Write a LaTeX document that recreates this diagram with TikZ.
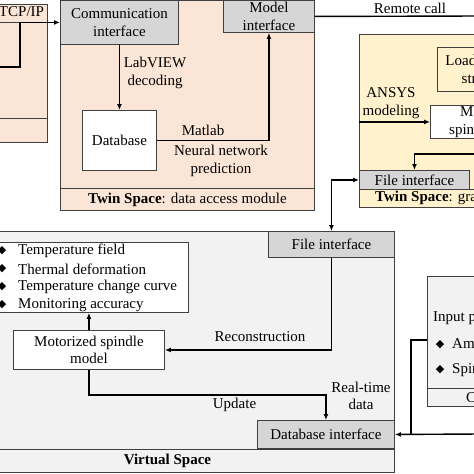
\documentclass[tikz,border=0pt]{standalone}
\usepackage{fontspec}
\setmainfont{Liberation Serif}
\newfontfamily\symfont{DejaVu Sans}
\usetikzlibrary{arrows.meta,calc}
\definecolor{peach}{HTML}{FBE5D6}
\definecolor{yel}{HTML}{FFF2CC}
\definecolor{hgray}{HTML}{D6D6D6}
\definecolor{vgray}{HTML}{F2F2F2}
\definecolor{bord}{HTML}{404040}
\begin{document}
\begin{tikzpicture}[x=1pt,y=-1pt,
  every node/.style={font=\fontsize{15}{17.5}\selectfont, inner sep=0pt},
  frame/.style={draw=bord, line width=0.9pt, anchor=north west, inner sep=0pt},
  conn/.style={line width=1.4pt, black},
  arr/.style={conn, -{Latex[length=6pt,width=5pt]}},
  darr/.style={conn, {Latex[length=6pt,width=5pt]}-{Latex[length=6pt,width=5pt]}},
  dia/.style={font=\symfont\fontsize{11}{11}\selectfont},
  item/.style={anchor=west}
]
\clip (0,0) rectangle (474,474);
% left box
\node[frame, fill=peach, minimum width=107pt, minimum height=138pt] (leftbox) at (-60,4) {};
\node[frame, fill=peach, minimum width=107pt, minimum height=18pt] (lhead) at (-60,4) {};
\node[frame, fill=peach, minimum width=107pt, minimum height=24pt] (lfoot) at (-60,118) {};
% data access module
\node[frame, fill=peach, minimum width=254pt, minimum height=210pt] (dam) at (60,0) {};
\node[frame, fill=peach, minimum width=254pt, minimum height=22pt] (damfoot) at (60,188) {\textbf{Twin Space}: data access module};
\node[frame, fill=hgray, minimum width=118pt, minimum height=44pt, align=center] (comm) at (60,0) {Communication\\interface};
\node[frame, fill=hgray, minimum width=91pt, minimum height=32pt, align=center] (model) at (223,0) {Model\\interface};
\node[frame, fill=white, minimum width=74pt, minimum height=60pt] (db) at (82,110) {Database};
% graphical module
\node[frame, fill=yel, minimum width=170pt, minimum height=173pt] (gm) at (359,34) {};
\node[frame, fill=yel, minimum width=170pt, minimum height=18pt] (gmfoot) at (359,189) {};
\node[item] (gmtxt) at (375,198) {\textbf{Twin Space}: graphical modeling module};
\node[frame, fill=hgray, minimum width=110pt, minimum height=19pt] (fileA) at (359,170) {File interface};
\node[frame, fill=yel, minimum width=101pt, minimum height=44pt, align=center] (load) at (437,47) {Load and heat\\structure};
\node[frame, fill=white, minimum width=122pt, minimum height=33pt, align=center] (msp) at (430,105) {Motorized\\spindle model};
% virtual space
\node[frame, fill=vgray, minimum width=454pt, minimum height=241pt] (vs) at (-60,231) {};
\node[frame, fill=vgray, minimum width=454pt, minimum height=23pt] (vsfoot) at (-60,449) {\textbf{Virtual Space}};
\node[frame, fill=hgray, minimum width=126pt, minimum height=26pt] (fileB) at (268,231) {File interface};
\node[frame, fill=white, minimum width=208pt, minimum height=70pt] (bul) at (-20,242) {};
\node[dia] (d1) at (2,251) {◆};
\node[dia] (d2) at (2,269) {◆};
\node[dia] (d3) at (2,287) {◆};
\node[dia] (d4) at (2,305) {◆};
\node[item] (t1) at (18,251) {Temperature field};
\node[item] (t2) at (18,269) {Thermal deformation};
\node[item] (t3) at (18,287) {Temperature change curve};
\node[item] (t4) at (18,305) {Monitoring accuracy};
\node[frame, fill=white, minimum width=151pt, minimum height=39pt, align=center] (msm) at (13,330) {Motorized spindle\\model};
\node[frame, fill=hgray, minimum width=137pt, minimum height=28pt] (dbi) at (257,420) {Database interface};
% input box
\node[frame, fill=vgray, minimum width=140pt, minimum height=130pt] (inp) at (427,276) {};
\node[frame, fill=vgray, minimum width=140pt, minimum height=18pt] (inpfoot) at (427,388) {};
\node[item] (inptxt) at (466,397) {Control module};
\node[item] (ip) at (433,318) {Input parameters};
\node[dia] (d5) at (440,345) {◆};
\node[dia] (d6) at (440,370) {◆};
\node[item] (ip1) at (452,345) {Ambient temperature};
\node[item] (ip2) at (452,370) {Spindle speed};
% connectors
\coordinate (tcpstart) at (-10,67);
\coordinate (tcpbend) at (20,67);
\draw[arr] (tcpstart) -- (tcpbend) |- (comm.west);
\node (tcp) at (21.5,12) {TCP/IP};
\draw[arr] (comm.south) -- (db.north);
\node[align=center] (lv) at (155,73) {LabVIEW\\decoding};
\draw[arr] (db.east) -| (model.south);
\node (ml) at (203,130) {Matlab};
\node[align=center] (nn) at (221,161) {Neural network\\prediction};
\coordinate (rcend) at (480,16);
\draw[conn] (model.east) -- (rcend);
\node (rc) at (410,8) {Remote call};
\draw[arr] (gm.west |- msp.west) -- (msp.west);
\node[align=center] (an) at (391,103) {ANSYS\\modeling};
\coordinate (frin) at (480,154);
\draw[arr] (frin) -| (fileA.north);
\draw[darr] (fileA.west) -| (fileB.north);
\draw[arr] (msm.north) -- (msm.north |- bul.south);
\draw[arr] (fileB.south) |- (msm.east);
\node (rec) at (260,337) {Reconstruction};
\draw[arr] (msm.south) -- ++(0,25) -| (dbi.north);
\node (upd) at (234.5,405) {Update};
\node[align=center] (rt) at (361,396) {Real-time\\data};
\coordinate (ipin) at (427,340);
\coordinate (junc) at (411,434);
\coordinate (rin) at (480,434);
\draw[conn] (ipin) -| (junc);
\draw[arr] (rin) -- (dbi.east);
\end{tikzpicture}
\end{document}
